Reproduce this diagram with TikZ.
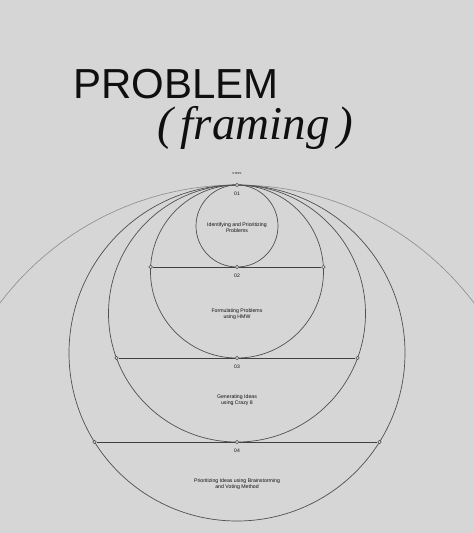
\documentclass[tikz,border=0pt]{standalone}
\usepackage{fontspec}
\setmainfont{Liberation Sans}
\newfontfamily\titleserif{Liberation Serif}
\usepackage{tikz}
\usetikzlibrary{positioning}
\definecolor{paper}{RGB}{214,214,214}
\definecolor{ringgray}{RGB}{80,80,80}
\definecolor{farring}{RGB}{140,140,140}
\definecolor{inkblack}{RGB}{15,15,15}

\tikzset{
  ring/.style={draw=ringgray, line width=0.7pt},
  chord/.style={draw=ringgray!80!black, line width=1pt},
  knot/.style={circle, draw=ringgray, fill=paper, inner sep=0pt, minimum size=3.6pt, line width=0.5pt},
  steplabel/.style={inner sep=0pt, text=inkblack, font=\fontsize{5}{6}\selectfont},
  stagetext/.style={align=center, inner sep=0pt, text=inkblack, font=\fontsize{5.2}{6}\selectfont}
}

\begin{document}
\begin{tikzpicture}[x=1pt,y=-1pt]
    \fill[paper] (0,0) rectangle (474,533);
    \useasboundingbox (0,0) rectangle (474,533);

    % Title
    \node[anchor=base west, inner sep=0pt, text=inkblack, font=\fontsize{42}{42}\selectfont] (title) at (73,98) {PROBLEM};
    \node[anchor=base west, inner sep=0pt, text=inkblack, font=\titleserif\itshape\fontsize{47}{47}\selectfont] (subtitle) at (157,139) {(\,framing\,)};

    % Rings, all touching at the top
    \begin{scope}
        \clip (0,0) rectangle (474,533);
        \draw[farring, line width=0.6pt] (237,482) circle (297);
    \end{scope}
    \draw[ring] (237,353) circle (168);
    \draw[ring] (237,313.5) circle (128.5);
    \draw[ring] (237,271.5) circle (86.5);
    \draw[ring] (237,226) circle (41);

    % Knots on the chords
    \node[knot] (k1) at (237,185) {};
    \node[knot] (k2l) at (150.6,267) {};
    \node[knot] (k2) at (237,267) {};
    \node[knot] (k2r) at (323.4,267) {};
    \node[knot] (k3l) at (116.5,358) {};
    \node[knot] (k3) at (237,358) {};
    \node[knot] (k3r) at (357.5,358) {};
    \node[knot] (k4l) at (94.5,442) {};
    \node[knot] (k4) at (237,442) {};
    \node[knot] (k4r) at (379.5,442) {};

    \draw[chord] (k2l) -- (k2) -- (k2r);
    \draw[chord] (k3l) -- (k3) -- (k3r);
    \draw[chord] (k4l) -- (k4) -- (k4r);

    % Step numbers
    \node[steplabel, font=\fontsize{2.8}{3}\selectfont, above=8pt of k1] (steps) {STEPS};
    \node[steplabel, below=4.5pt of k1] (n1) {01};
    \node[steplabel, below=4.5pt of k2] (n2) {02};
    \node[steplabel, below=4.5pt of k3] (n3) {03};
    \node[steplabel, below=4.5pt of k4] (n4) {04};

    % Stages
    \node[stagetext] (s1) at (237,227.5) {Identifying and Prioritizing\\Problems};
    \node[stagetext] (s2) at (237,314.5) {Formulating Problems\\using HMW};
    \node[stagetext] (s3) at (237,400) {Generating Ideas\\using Crazy 8};
    \node[stagetext] (s4) at (237,484.5) {Prioritizing Ideas using Brainstorming\\and Voting Method};
\end{tikzpicture}
\end{document}
